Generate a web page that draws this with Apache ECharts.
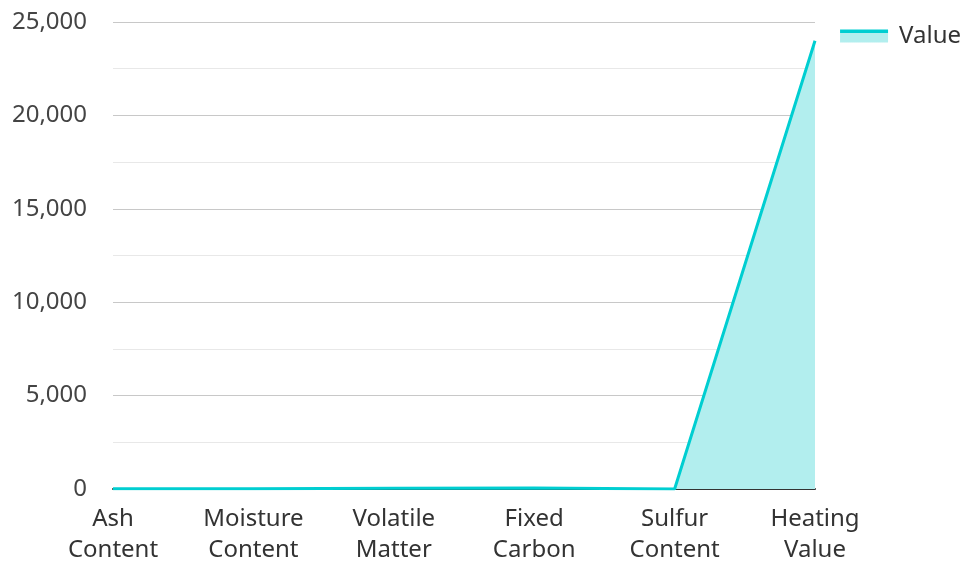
<!DOCTYPE html>
<html><head><meta charset="utf-8">
<script src="https://cdn.jsdelivr.net/npm/echarts@6/dist/echarts.min.js"></script>
<style>html,body{margin:0;padding:0;background:#fff}#c{width:964px;height:561px}</style>
</head><body><div id="c"></div>
<script>
const categories = ['Ash\nContent','Moisture\nContent','Volatile\nMatter','Fixed\nCarbon','Sulfur\nContent','Heating\nValue'];
const values = [10, 12, 35, 60, 1, 24000];
const seriesName = 'Value';

const lineColor = '#00CED1';
const fillColor = '#b2eeee';
const chart = echarts.init(document.getElementById('c'));
chart.setOption({
  animation: false,
  textStyle: {fontFamily: 'Noto Sans'},
  grid: {left: 113, right: 149, top: 22, bottom: 72, containLabel: false, outerBoundsMode: 'none'},
  legend: {
    data: [seriesName], right: -2, top: 19, icon: 'rect', itemWidth: 48, itemHeight: 13, itemGap: 10,
    textStyle: {fontSize: 24, color: '#333', fontFamily: 'Noto Sans', padding: [0, 0, 0, 6]},
    itemStyle: {color: {type:'linear', x:0, y:0, x2:0, y2:1, colorStops:[
      {offset:0, color:lineColor},{offset:0.3, color:lineColor},{offset:0.3, color:fillColor},{offset:1, color:fillColor}]}}
  },
  xAxis: {
    type: 'category', data: categories, boundaryGap: false,
    axisLine: {lineStyle: {color: '#333', width: 2}},
    axisTick: {show: false},
    axisLabel: {fontSize: 24, color: '#333', lineHeight: 31, margin: 15, interval: 0}
  },
  yAxis: {
    type: 'value', min: 0, max: 25000, interval: 5000,
    axisLine: {show: false}, axisTick: {show: false},
    axisLabel: {fontSize: 24, color: '#444', margin: 26, formatter: v => v.toLocaleString('en-US')},
    splitLine: {lineStyle: {color: '#c8c8c8', width: 1}},
    minorTick: {show: false, splitNumber: 2},
    minorSplitLine: {show: true, lineStyle: {color: '#e8e8e8', width: 1}}
  },
  series: [{
    name: seriesName, type: 'line', data: values, symbol: 'none',
    lineStyle: {color: lineColor, width: 3},
    itemStyle: {color: lineColor},
    areaStyle: {color: fillColor, opacity: 1, origin: 'start'}
  }]
});
</script></body></html>
